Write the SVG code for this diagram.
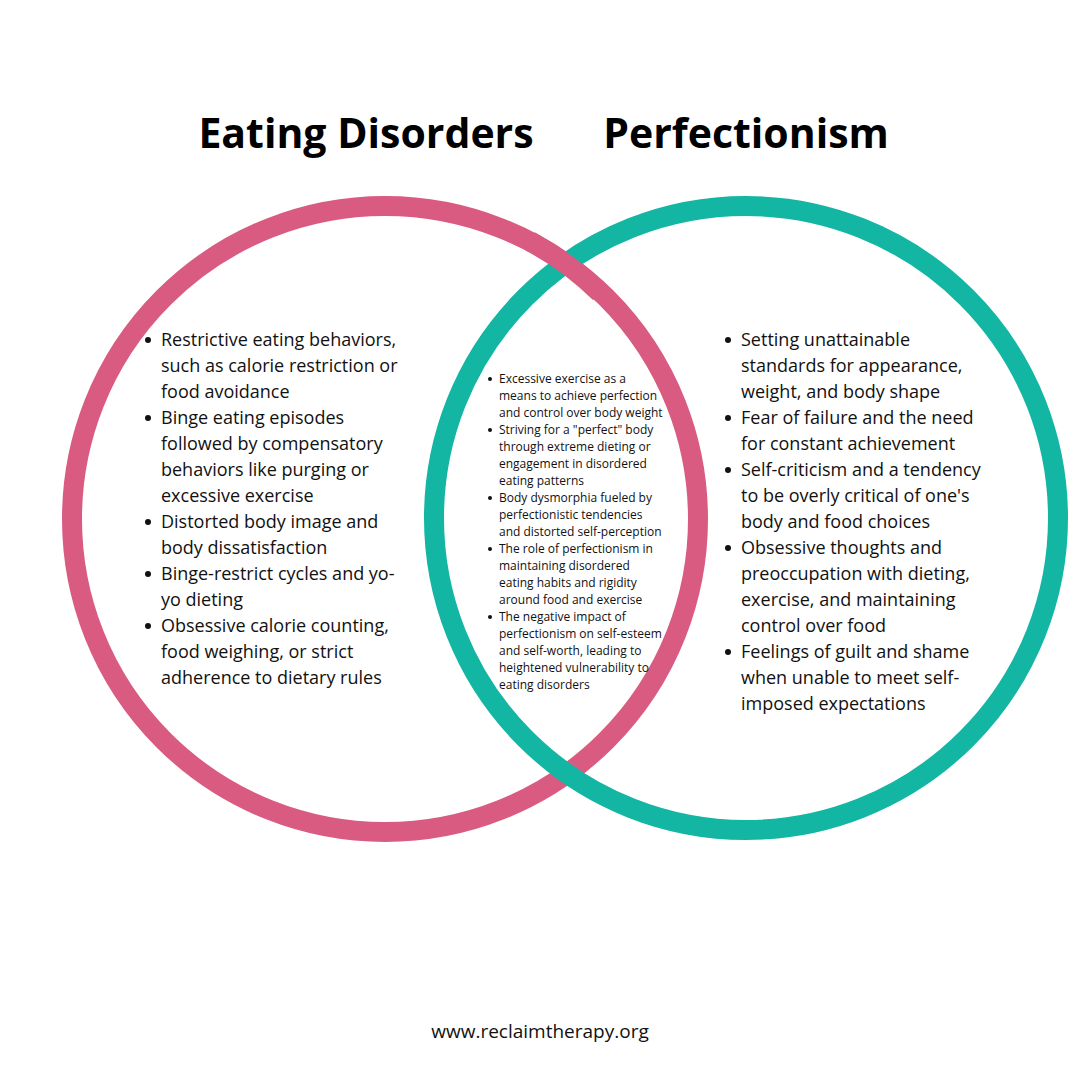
<svg xmlns="http://www.w3.org/2000/svg" width="1080" height="1080" viewBox="0 0 1080 1080">
<style>
.t{font-family:"Open Sans","Liberation Sans",sans-serif;fill:#111}
.h{font-family:"Open Sans","Liberation Sans",sans-serif;font-weight:bold;font-size:41px;fill:#000}
.l{font-size:18px}
.m{font-size:12px}
</style>
<rect width="1080" height="1080" fill="#fff"/>
<g id="circles">
<circle cx="385" cy="519" r="313" fill="none" stroke="#d95b82" stroke-width="20"/>
<circle cx="746" cy="518" r="312" fill="none" stroke="#13b5a3" stroke-width="20"/>
<path d="M530 241 A313 313 0 0 1 600 293" fill="none" stroke="#d95b82" stroke-width="20"/>
</g>
<g id="titles">
<text class="h" x="366" y="148" text-anchor="middle">Eating Disorders</text>
<text class="h" x="746" y="148" text-anchor="middle">Perfectionism</text>
</g>
<g id="left" class="t l">
<text x="161" y="346">Restrictive eating behaviors,</text>
<text x="161" y="372">such as calorie restriction or</text>
<text x="161" y="398">food avoidance</text>
<text x="161" y="424">Binge eating episodes</text>
<text x="161" y="450">followed by compensatory</text>
<text x="161" y="476">behaviors like purging or</text>
<text x="161" y="502">excessive exercise</text>
<text x="161" y="528">Distorted body image and</text>
<text x="161" y="554">body dissatisfaction</text>
<text x="161" y="580">Binge-restrict cycles and yo-</text>
<text x="161" y="606">yo dieting</text>
<text x="161" y="632">Obsessive calorie counting,</text>
<text x="161" y="658">food weighing, or strict</text>
<text x="161" y="684">adherence to dietary rules</text>
<g fill="#111"><circle cx="148" cy="340" r="3"/><circle cx="148" cy="418" r="3"/><circle cx="148" cy="522" r="3"/><circle cx="148" cy="574" r="3"/><circle cx="148" cy="626" r="3"/></g>
</g>
<g id="middle" class="t m">
<text x="499" y="383">Excessive exercise as a</text>
<text x="499" y="400">means to achieve perfection</text>
<text x="499" y="417">and control over body weight</text>
<text x="499" y="434">Striving for a "perfect" body</text>
<text x="499" y="451">through extreme dieting or</text>
<text x="499" y="468">engagement in disordered</text>
<text x="499" y="485">eating patterns</text>
<text x="499" y="502">Body dysmorphia fueled by</text>
<text x="499" y="519">perfectionistic tendencies</text>
<text x="499" y="536">and distorted self-perception</text>
<text x="499" y="553">The role of perfectionism in</text>
<text x="499" y="570">maintaining disordered</text>
<text x="499" y="587">eating habits and rigidity</text>
<text x="499" y="604">around food and exercise</text>
<text x="499" y="621">The negative impact of</text>
<text x="499" y="638">perfectionism on self-esteem</text>
<text x="499" y="655">and self-worth, leading to</text>
<text x="499" y="672">heightened vulnerability to</text>
<text x="499" y="689">eating disorders</text>
<g fill="#111"><circle cx="490" cy="379" r="2"/><circle cx="490" cy="430" r="2"/><circle cx="490" cy="498" r="2"/><circle cx="490" cy="549" r="2"/><circle cx="490" cy="617" r="2"/></g>
</g>
<g id="right" class="t l">
<text x="741" y="346">Setting unattainable</text>
<text x="741" y="372">standards for appearance,</text>
<text x="741" y="398">weight, and body shape</text>
<text x="741" y="424">Fear of failure and the need</text>
<text x="741" y="450">for constant achievement</text>
<text x="741" y="476">Self-criticism and a tendency</text>
<text x="741" y="502">to be overly critical of one's</text>
<text x="741" y="528">body and food choices</text>
<text x="741" y="554">Obsessive thoughts and</text>
<text x="741" y="580">preoccupation with dieting,</text>
<text x="741" y="606">exercise, and maintaining</text>
<text x="741" y="632">control over food</text>
<text x="741" y="658">Feelings of guilt and shame</text>
<text x="741" y="684">when unable to meet self-</text>
<text x="741" y="710">imposed expectations</text>
<g fill="#111"><circle cx="728" cy="340" r="3"/><circle cx="728" cy="418" r="3"/><circle cx="728" cy="470" r="3"/><circle cx="728" cy="548" r="3"/><circle cx="728" cy="652" r="3"/></g>
</g>
<text class="t" x="540" y="1038" font-size="19" text-anchor="middle" fill="#222">www.reclaimtherapy.org</text>
</svg>
